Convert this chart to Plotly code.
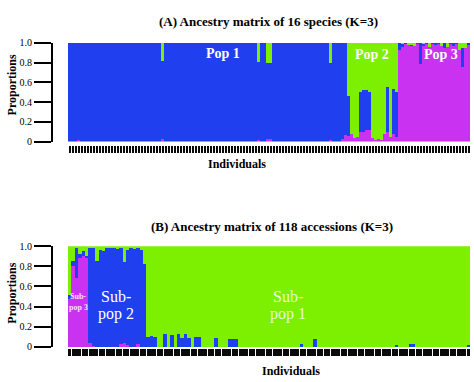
import plotly.graph_objects as go

# ---------------- DATA ----------------
# (A) 16 species, individuals in plotting order
top_ids = list(range(1, 135))
top_magenta = [
    0, 0, 0, 0.02, 0, 0, 0, 0, 0, 0,
    0, 0, 0, 0, 0, 0, 0, 0, 0, 0,
    0, 0, 0, 0, 0, 0, 0, 0, 0, 0,
    0, 0.03, 0, 0, 0, 0, 0, 0, 0, 0,
    0, 0, 0, 0, 0, 0, 0, 0, 0, 0,
    0, 0, 0, 0, 0, 0, 0, 0, 0, 0,
    0, 0, 0, 0.02, 0, 0, 0.03, 0.03, 0, 0,
    0, 0, 0, 0, 0, 0, 0, 0, 0, 0,
    0, 0, 0, 0, 0, 0, 0, 0.02, 0, 0,
    0, 0.03, 0.07, 0.06, 0.08, 0.04, 0.05, 0.10, 0.10, 0.12,
    0.12, 0.04, 0.02, 0.03, 0.02, 0.08, 0.10, 0.05, 0.08, 0.05,
    0.93, 0.96, 0.99, 0.98, 0.97, 0.97, 0.99, 0.79, 0.97, 0.99,
    0.96, 0.99, 0.98, 0.99, 0.97, 0.95, 0.96, 0.99, 0.97, 0.99,
    0.93, 0.76, 0.95, 0.98,
]
top_blue = [
    1, 1, 1, 0.98, 1, 1, 1, 1, 1, 1,
    1, 1, 1, 1, 1, 1, 1, 1, 1, 1,
    1, 1, 1, 1, 1, 1, 1, 1, 1, 1,
    1, 0.79, 1, 1, 1, 1, 1, 1, 1, 1,
    1, 1, 1, 1, 1, 1, 1, 1, 1, 1,
    1, 1, 1, 1, 1, 1, 1, 1, 1, 1,
    1, 1, 1, 0.79, 1, 1, 0.77, 0.77, 1, 1,
    1, 1, 1, 1, 1, 1, 1, 1, 1, 1,
    1, 1, 1, 1, 1, 1, 1, 0.78, 1, 1,
    1, 0.97, 0.93, 0.40, 0, 0, 0, 0.40, 0.42, 0.40,
    0.38, 0, 0, 0, 0, 0, 0.45, 0, 0.45, 0.45,
    0.07, 0.03, 0.01, 0, 0.01, 0, 0.01, 0.21, 0.02, 0.01,
    0, 0.01, 0.02, 0.01, 0, 0.05, 0, 0.01, 0.03, 0.01,
    0, 0.19, 0, 0.02,
]
top_green = [
    0, 0, 0, 0, 0, 0, 0, 0, 0, 0,
    0, 0, 0, 0, 0, 0, 0, 0, 0, 0,
    0, 0, 0, 0, 0, 0, 0, 0, 0, 0,
    0, 0.18, 0, 0, 0, 0, 0, 0, 0, 0,
    0, 0, 0, 0, 0, 0, 0, 0, 0, 0,
    0, 0, 0, 0, 0, 0, 0, 0, 0, 0,
    0, 0, 0, 0.19, 0, 0, 0.20, 0.20, 0, 0,
    0, 0, 0, 0, 0, 0, 0, 0, 0, 0,
    0, 0, 0, 0, 0, 0, 0, 0.20, 0, 0,
    0, 0, 0, 0.54, 0.92, 0.96, 0.95, 0.50, 0.48, 0.48,
    0.50, 0.96, 0.98, 0.97, 0.98, 0.92, 0.45, 0.95, 0.47, 0.50,
    0, 0.01, 0, 0.02, 0.02, 0.03, 0, 0, 0.01, 0,
    0.04, 0, 0, 0, 0.03, 0, 0.04, 0, 0, 0,
    0.07, 0.05, 0.05, 0,
]

# (B) 118 accessions
bot_ids = list(range(1, 119))
bot_magenta = [
    0.47, 0.80, 0.68, 0.88, 0.90, 0.88,
    0.04, 0.01, 0, 0, 0, 0, 0, 0, 0, 0.03, 0.04, 0.02, 0, 0, 0.03, 0, 0,
    0, 0, 0, 0, 0, 0, 0, 0, 0, 0,
    0, 0, 0, 0, 0, 0, 0, 0, 0, 0,
    0, 0, 0, 0, 0, 0, 0, 0, 0, 0,
    0, 0, 0, 0, 0, 0, 0, 0, 0, 0,
    0, 0, 0, 0, 0, 0, 0, 0, 0, 0,
    0, 0, 0, 0, 0, 0, 0, 0, 0, 0,
    0, 0, 0, 0, 0, 0, 0, 0, 0, 0,
    0, 0, 0, 0, 0, 0, 0, 0, 0, 0,
    0, 0, 0, 0, 0, 0, 0, 0, 0, 0,
    0, 0, 0, 0, 0,
]
bot_blue = [
    0.04, 0.05, 0.30, 0.04, 0.05, 0.02,
    0.94, 0.97, 0.85, 0.96, 0.95, 0.99, 0.98, 0.99, 0.97, 0.95, 0.80, 0.94, 0.99, 0.97, 0.96, 0.96, 0.82,
    0.10, 0.11, 0.10, 0, 0, 0.13, 0, 0.12, 0, 0.13,
    0.09, 0.13, 0.09, 0, 0.10, 0.10, 0, 0, 0, 0,
    0.09, 0, 0, 0, 0.08, 0.08, 0.08, 0, 0, 0,
    0, 0, 0, 0, 0, 0, 0, 0, 0, 0,
    0, 0, 0, 0, 0, 0.03, 0, 0, 0, 0.08,
    0, 0, 0, 0, 0, 0, 0, 0, 0, 0,
    0, 0, 0, 0, 0, 0, 0, 0, 0, 0,
    0, 0, 0, 0.02, 0, 0, 0, 0.03, 0.03, 0,
    0, 0, 0, 0, 0, 0, 0, 0, 0, 0,
    0, 0, 0, 0, 0.02,
]
bot_green = [
    0.49, 0.15, 0.02, 0.08, 0.05, 0.10,
    0.02, 0.02, 0.15, 0.04, 0.05, 0.01, 0.02, 0.01, 0.03, 0.02, 0.16, 0.04, 0.01, 0.03, 0.01, 0.04, 0.18,
    0.90, 0.89, 0.90, 1, 1, 0.87, 1, 0.88, 1, 0.87,
    0.91, 0.87, 0.91, 1, 0.90, 0.90, 1, 1, 1, 1,
    0.91, 1, 1, 1, 0.92, 0.92, 0.92, 1, 1, 1,
    1, 1, 1, 1, 1, 1, 1, 1, 1, 1,
    1, 1, 1, 1, 1, 0.97, 1, 1, 1, 0.92,
    1, 1, 1, 1, 1, 1, 1, 1, 1, 1,
    1, 1, 1, 1, 1, 1, 1, 1, 1, 1,
    1, 1, 1, 0.98, 1, 1, 1, 0.97, 0.97, 1,
    1, 1, 1, 1, 1, 1, 1, 1, 1, 1,
    1, 1, 1, 1, 0.98,
]

y_tickvals = [0, 0.2, 0.4, 0.6, 0.8, 1.0]
y_ticktext = ["0", "0.2", "0.4", "0.6", "0.8", "1.0"]

# ---------------- STYLE ----------------
W, H = 474, 382
C_MAG = "#c832f0"
C_BLUE = "#2040f0"
C_GREEN = "#7cf000"
SERIF = "Liberation Serif, Times New Roman, serif"


def px(x):
    return x / W


def py(y):
    return 1 - y / H


fig = go.Figure()
for vals, col in [(top_magenta, C_MAG), (top_blue, C_BLUE), (top_green, C_GREEN)]:
    fig.add_trace(go.Bar(x=top_ids, y=vals, marker=dict(color=col, line=dict(width=0)),
                         xaxis="x", yaxis="y", showlegend=False, hoverinfo="skip"))
for vals, col in [(bot_magenta, C_MAG), (bot_blue, C_BLUE), (bot_green, C_GREEN)]:
    fig.add_trace(go.Bar(x=bot_ids, y=vals, marker=dict(color=col, line=dict(width=0)),
                         xaxis="x2", yaxis="y2", showlegend=False, hoverinfo="skip"))

xdom = [px(68), px(470)]
yaxis_common = dict(range=[0, 1], anchor="free", position=px(52), showline=True, linecolor="black",
                    linewidth=2, ticks="outside", ticklen=17, tickwidth=2, tickcolor="black",
                    tickvals=y_tickvals, ticktext=y_ticktext, showgrid=False, zeroline=False,
                    tickfont=dict(family=SERIF, size=10, color="black"))
# x axes: free-positioned just under the bars; one dense tick per individual forms the strip
xaxis_common = dict(domain=xdom, anchor="free", showticklabels=False, ticks="outside", ticklen=7,
                    tickcolor="#0a0a0a", showgrid=False, zeroline=False, showline=False)

fig.update_layout(
    width=W, height=H, margin=dict(l=0, r=0, t=0, b=0),
    paper_bgcolor="white", plot_bgcolor="white",
    barmode="stack", bargap=0,
    xaxis=dict(range=[top_ids[0] - 0.5, top_ids[-1] + 0.5], position=py(143),
               tickvals=top_ids, tickwidth=2.4, **xaxis_common),
    yaxis=dict(domain=[py(140), py(38)], **yaxis_common),
    xaxis2=dict(range=[bot_ids[0] - 0.5, bot_ids[-1] + 0.5], position=py(353),
                tickvals=bot_ids, tickwidth=2.7, **xaxis_common),
    yaxis2=dict(domain=[py(352), py(248)], **yaxis_common),
)

ann = []


def add_text(x, y, text, size, color="black", bold=True, angle=0):
    ann.append(dict(x=px(x), y=py(y), xref="paper", yref="paper", showarrow=False,
                    text=f"<b>{text}</b>" if bold else text, textangle=angle,
                    xanchor="center", yanchor="middle",
                    font=dict(family=SERIF, size=size, color=color)))


add_text(268, 16, "(A) Ancestry matrix of 16 species (K=3)", 13)
add_text(272, 228, "(B) Ancestry matrix of 118 accessions (K=3)", 13)
add_text(12, 82, "Proportions", 12, angle=-90)
add_text(12, 297, "Proportions", 12, angle=-90)
add_text(237, 163, "Individuals", 12)
add_text(291, 377, "Individuals", 12)
add_text(223, 49, "Pop 1", 14, color="white")
add_text(372, 50, "Pop 2", 14, color="white")
add_text(441, 50, "Pop 3", 14, color="white")
add_text(78, 300, "Sub-", 8, color="#f8e0f8")
add_text(78, 311, "pop 3", 8, color="#f8e0f8")
add_text(116, 300, "Sub-", 16, color="white", bold=False)
add_text(116, 318, "pop 2", 16, color="white", bold=False)
add_text(288, 300, "Sub-", 16, color="#eaf8d8", bold=False)
add_text(288, 318, "pop 1", 16, color="#eaf8d8", bold=False)
fig.update_layout(annotations=ann)

fig.write_html("out.html", config={"displayModeBar": False},
               post_script="document.body.style.margin='0px';")
